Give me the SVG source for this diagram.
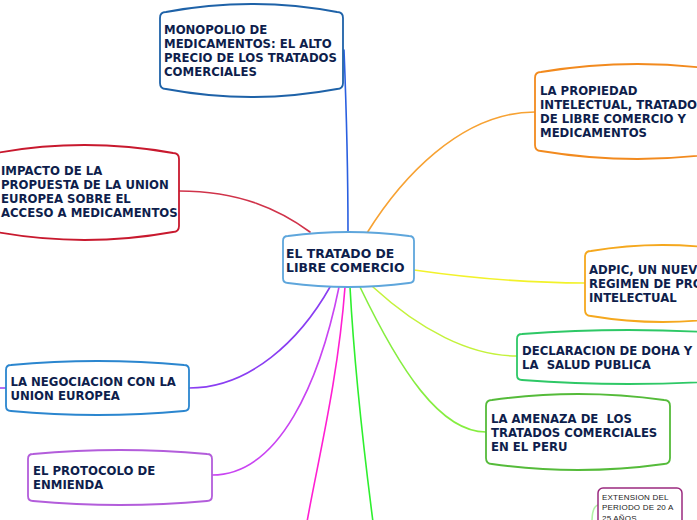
<svg xmlns="http://www.w3.org/2000/svg" width="697" height="520" viewBox="0 0 697 520">
<style>
.node path{fill:#fff;stroke-width:1.8}
.t{font-family:"DejaVu Sans",Verdana,sans-serif;font-weight:bold;font-size:11.7px;fill:#0e1e4c}
.c{font-size:12.4px}
.s{font-family:"Liberation Sans",Arial,sans-serif;font-size:8px;fill:#222;letter-spacing:0.2px}
#connectors path{fill:none;stroke-width:1.6;stroke-linecap:round}
</style>
<rect width="697" height="520" fill="#fff"/>
<g id="connectors">
<path d="M348,233 C348,160 346,100 344,50" stroke="#2a5fe0"/>
<path d="M367,233 C400,180 460,112 535,112" stroke="#f7a233"/>
<path d="M310,232 C280,210 240,191 179,191" stroke="#d0334a"/>
<path d="M414,270 C470,278 530,283 585,283" stroke="#f2f22a"/>
<path d="M373,287 C420,330 470,356 517,356" stroke="#c4f23c"/>
<path d="M360,287 C400,370 440,432 486,432" stroke="#86ee40"/>
<path d="M350,287 C355,380 365,460 373,522" stroke="#2eef2e"/>
<path d="M345,287 C338,380 318,460 307,522" stroke="#ff1fd2"/>
<path d="M339,287 C320,380 280,475 212,475" stroke="#c944f2"/>
<path d="M330,287 C300,340 250,388 189,388" stroke="#8a3ef2"/>
<path d="M-2,388 L6,388" stroke="#9a40f0"/>
<path d="M592,522 C592,512 594,506 598,505" stroke="#b2f0a6" stroke-width="1"/>
</g>
<g id="n-monopolio" class="node">
<path d="M160,18 Q160,12 166,12 Q251.5,-4 337,12 Q343,12 343,18 L343,83 Q343,89 337,89 Q251.5,105 166,89 Q160,89 160,83 Z" stroke="#1e62a8"/>
<text class="t" x="164" y="33.5">MONOPOLIO DE</text>
<text class="t" x="164" y="47.5">MEDICAMENTOS: EL ALTO</text>
<text class="t" x="164" y="61.5">PRECIO DE LOS TRATADOS</text>
<text class="t" x="164" y="75.5">COMERCIALES</text>
</g>
<g id="n-propiedad" class="node">
<path d="M535,78 Q535,72 541,72 Q637.5,56 734,72 Q740,72 740,78 L740,145 Q740,151 734,151 Q637.5,167 541,151 Q535,151 535,145 Z" stroke="#f28a1e"/>
<text class="t" x="540" y="95">LA PROPIEDAD</text>
<text class="t" x="540" y="109">INTELECTUAL, TRATADO</text>
<text class="t" x="540" y="123">DE LIBRE COMERCIO Y</text>
<text class="t" x="540" y="137">MEDICAMENTOS</text>
</g>
<g id="n-impacto" class="node">
<path d="M-10,159 Q-10,153 -4,153 Q84.5,137 173,153 Q179,153 179,159 L179,226 Q179,232 173,232 Q84.5,248 -4,232 Q-10,232 -10,226 Z" stroke="#c8192e"/>
<text class="t" x="1" y="175">IMPACTO DE LA</text>
<text class="t" x="1" y="189">PROPUESTA DE LA UNION</text>
<text class="t" x="1" y="203">EUROPEA SOBRE EL</text>
<text class="t" x="1" y="217">ACCESO A MEDICAMENTOS</text>
</g>
<g id="n-central" class="node">
<path d="M283,241 Q283,236 288,236 Q348.5,228 409,236 Q414,236 414,241 L414,278 Q414,283 409,283 Q348.5,291 288,283 Q283,283 283,278 Z" stroke="#5ea6dc" stroke-width="1.2"/>
<text class="t c" x="286" y="258">EL TRATADO DE</text>
<text class="t c" x="286" y="272">LIBRE COMERCIO</text>
</g>
<g id="n-adpic" class="node">
<path d="M585,257 Q585,251 591,251 Q662.5,239 734,251 Q740,251 740,257 L740,310 Q740,316 734,316 Q662.5,328 591,316 Q585,316 585,310 Z" stroke="#f5a81e"/>
<text class="t" x="589" y="273.5">ADPIC, UN NUEVO</text>
<text class="t" x="589" y="287.5">REGIMEN DE PROPIEDAD</text>
<text class="t" x="589" y="301.5">INTELECTUAL</text>
</g>
<g id="n-doha" class="node">
<path d="M517,339 Q517,334 522,334 Q628.5,326 735,334 Q740,334 740,339 L740,375 Q740,380 735,380 Q628.5,388 522,380 Q517,380 517,375 Z" stroke="#2ec866"/>
<text class="t" x="522" y="354.5">DECLARACION DE DOHA Y</text>
<text class="t" x="522" y="368.5" xml:space="preserve">LA  SALUD PUBLICA</text>
</g>
<g id="n-amenaza" class="node">
<path d="M486,406 Q486,400 492,400 Q578,388 664,400 Q670,400 670,406 L670,458 Q670,464 664,464 Q578,476 492,464 Q486,464 486,458 Z" stroke="#55bb3a"/>
<text class="t" x="491" y="422.5" xml:space="preserve">LA AMENAZA DE  LOS</text>
<text class="t" x="491" y="436.5">TRATADOS COMERCIALES</text>
<text class="t" x="491" y="450.5">EN EL PERU</text>
</g>
<g id="n-negociacion" class="node">
<path d="M6,370 Q6,365 11,365 Q97.5,357 184,365 Q189,365 189,370 L189,406 Q189,411 184,411 Q97.5,419 11,411 Q6,411 6,406 Z" stroke="#2b86cf"/>
<text class="t" x="10.5" y="386">LA NEGOCIACION CON LA</text>
<text class="t" x="10.5" y="400">UNION EUROPEA</text>
</g>
<g id="n-protocolo" class="node">
<path d="M28,459 Q28,454 33,454 Q120,446 207,454 Q212,454 212,459 L212,496 Q212,501 207,501 Q120,509 33,501 Q28,501 28,496 Z" stroke="#b35ddb"/>
<text class="t" x="33" y="474.5">EL PROTOCOLO DE</text>
<text class="t" x="33" y="488.5">ENMIENDA</text>
</g>
<g id="n-extension">
<rect x="598" y="488" width="84" height="50" rx="5" fill="#fff" stroke="#9b2a7f" stroke-width="1.5"/>
<text class="s" x="602" y="499.5">EXTENSION DEL</text>
<text class="s" x="602" y="510">PERIODO DE 20 A</text>
<text class="s" x="602" y="520.5">25 AÑOS</text>
</g>
</svg>
